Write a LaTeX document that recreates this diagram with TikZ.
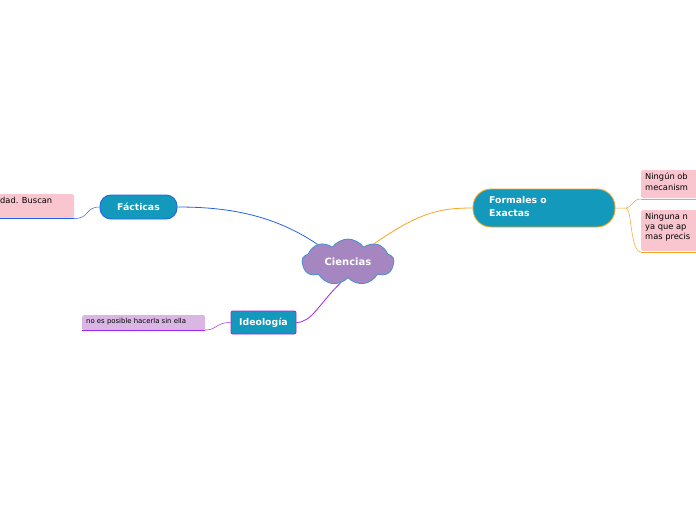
\documentclass[tikz,border=0pt]{standalone}
\usepackage{fontspec}
\setmainfont{DejaVu Sans}
\usetikzlibrary{shapes.symbols}
\definecolor{teal}{HTML}{1399BC}
\definecolor{pinkbox}{HTML}{F9C6D0}
\definecolor{lilac}{HTML}{D9B6E3}
\definecolor{cloudfill}{HTML}{A586C0}
\definecolor{cloudline}{HTML}{3A8FD0}
\definecolor{bl}{HTML}{2462E8}
\definecolor{orng}{HTML}{F5A623}
\definecolor{purp}{HTML}{A425E8}
\tikzset{
  topic/.style={fill=teal, rounded corners=#1, text=white, font=\bfseries\fontsize{9.3}{11}\selectfont, inner sep=0pt, line width=0.9pt},
  note/.style={fill=pinkbox, rounded corners=1.5pt, inner sep=0pt, anchor=north west},
  notetext/.style={font=\fontsize{8.3}{10.2}\selectfont, text=black, align=left, anchor=north west, inner sep=0pt},
  link/.style={line width=0.8pt}
}
\begin{document}
\begin{tikzpicture}[x=1pt,y=-1pt]
\useasboundingbox (0,0) rectangle (696,520);
\clip (0,0) rectangle (696,520);
\fill[white] (0,0) rectangle (696,520);
% notes
\node[note, minimum width=85pt, minimum height=24pt] (nf) at (-11,194) {};
\draw[bl, link] (-11,218.5) -- (74,218.5) coordinate (nfe);
\node[notetext] (tf) at (0,197) {dad. Buscan};
\node[note, minimum width=60pt, minimum height=28pt] (nr1) at (641,170) {};
\draw[orng, link] (641,199) coordinate (r1s) -- (700,199);
\node[notetext] (tr1) at (645,173) {Ningún ob\\mecanism};
\node[note, minimum width=60pt, minimum height=41pt] (nr2) at (641,210) {};
\draw[orng, link] (641,252) coordinate (r2s) -- (700,252);
\node[notetext] (tr2) at (645,213) {Ninguna n\\ya que ap\\mas precis};
\node[note, fill=lilac, minimum width=123pt, minimum height=15pt] (ni) at (82,315) {};
\draw[purp, link] (82,330) -- (205,330) coordinate (nie);
\node[font=\fontsize{6.9}{8}\selectfont, anchor=west, inner sep=0pt] (ti) at (86,322) {no es posible hacerla sin ella};
% topics
\node[topic=11pt, draw=bl, minimum width=77pt, minimum height=24pt] (fac) at (138.5,207) {Fácticas};
\node[topic=18pt, draw=orng, minimum width=142pt, minimum height=38pt] (for) at (544,208) {};
\node[font=\bfseries\fontsize{9.3}{13}\selectfont, text=white, align=left, anchor=north west, inner sep=0pt] (tfor) at (489,196) {Formales o\\Exactas};
\node[topic=2pt, draw=purp, minimum width=65pt, minimum height=23pt] (ide) at (263.5,322.5) {Ideología};
\node[cloud, cloud puffs=9, cloud puff arc=110, aspect=2.3, fill=cloudfill, draw=cloudline, line width=0.7pt, minimum width=92pt, minimum height=46pt, text=white, font=\bfseries\fontsize{10}{11}\selectfont, inner sep=0pt] (cie) at (348,262) {Ciencias};
% connectors
\draw[bl, link] (cie.150) .. controls (270,212) and (220,207) .. (fac.east);
\draw[orng, link] (cie.35) .. controls (420,212) and (440,208) .. (for.west);
\draw[purp, link] (cie.-110) .. controls (318,305) and (312,322) .. (ide.east);
\draw[bl, line width=0.5pt] (fac.west) .. controls (85,207) and (90,218.5) .. (nfe);
\draw[orng, line width=0.5pt] (for.east) -- (626,208) .. controls (632,208) and (632,199) .. (r1s);
\draw[orng, line width=0.5pt] (626,208) .. controls (632,208) and (630,252) .. (r2s);
\draw[purp, line width=0.5pt] (ide.west) .. controls (215,322.5) and (218,330) .. (nie);
\end{tikzpicture}
\end{document}
